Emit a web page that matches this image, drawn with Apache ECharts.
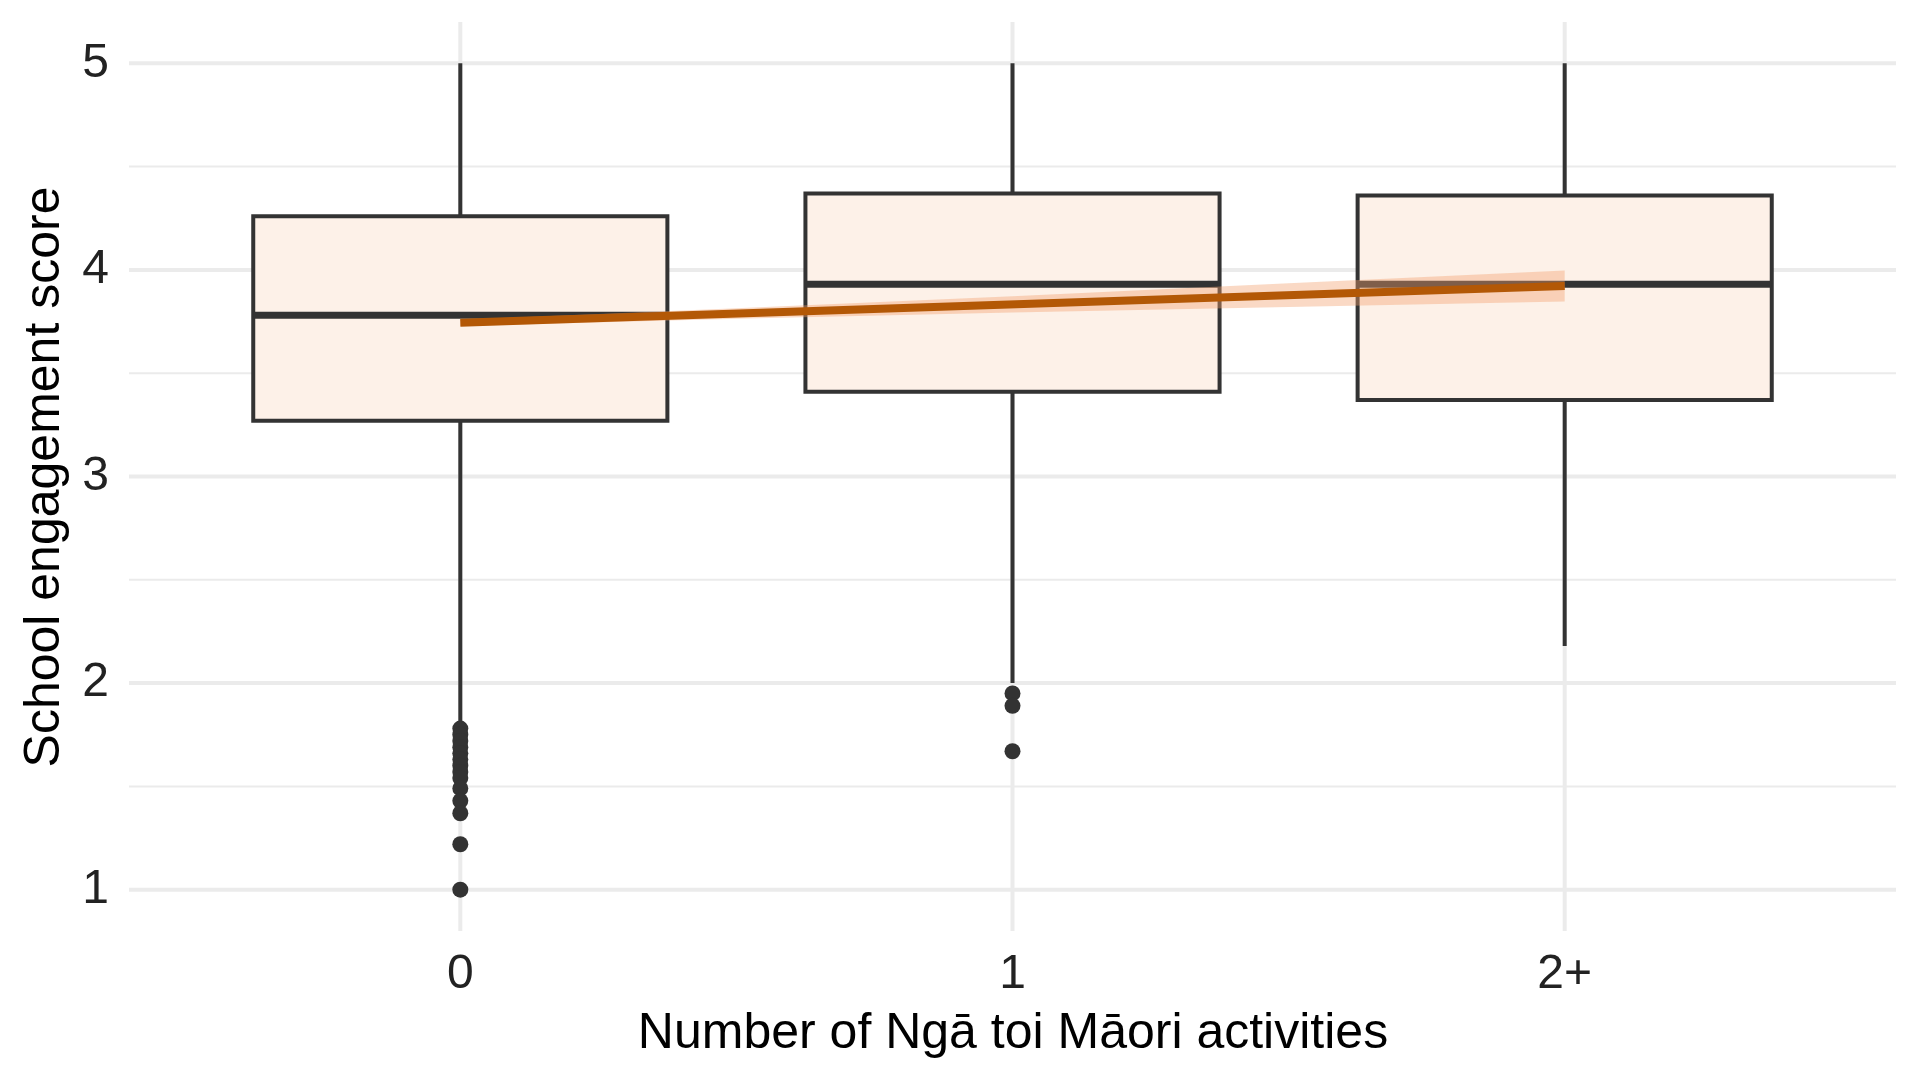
<!DOCTYPE html>
<html>
<head>
<meta charset="utf-8">
<script src="https://cdn.jsdelivr.net/npm/echarts@6/dist/echarts.min.js"></script>
<style>
  html, body { margin: 0; padding: 0; background: #ffffff; }
  #chart { width: 1920px; height: 1080px; }
</style>
</head>
<body>
<div id="chart"></div>
<script>
// ---- Data ----
const categories = ['0', '1', '2+'];
const boxLow    = [1.80, 2.00, 2.18];
const boxQ1     = [3.27, 3.41, 3.37];
const boxMedian = [3.78, 3.93, 3.93];
const boxQ3     = [4.26, 4.37, 4.36];
const boxHigh   = [5.00, 5.00, 5.00];
const outliers0 = [1.78, 1.75, 1.72, 1.69, 1.66, 1.63, 1.60, 1.57, 1.54, 1.49, 1.43, 1.37, 1.22, 1.00];
const outliers1 = [1.95, 1.89, 1.67];
const trendX = [0, 2];
const trendY = [3.744, 3.922];
const bandX    = [0, 0.5, 1, 1.5, 2];
const bandLow  = [3.729, 3.764, 3.794, 3.820, 3.847];
const bandHigh = [3.759, 3.814, 3.873, 3.935, 3.997];
const yMajor = [1, 2, 3, 4, 5];
const yMinor = [1.5, 2.5, 3.5, 4.5];
const xTitle = 'Number of Ngā toi Māori activities';
const yTitle = 'School engagement score';

const FONT = '"Liberation Sans", Arial, sans-serif';
const X_MIN = -0.6, X_MAX = 2.6, Y_MIN = 0.8, Y_MAX = 5.2;

const chart = echarts.init(document.getElementById('chart'));

function hLineRender(width) {
  return function (params, api) {
    const v = api.value(1);
    const a = api.coord([X_MIN, v]);
    const b = api.coord([X_MAX, v]);
    return { type: 'line', shape: { x1: a[0], y1: a[1], x2: b[0], y2: b[1] },
             style: { stroke: '#EBEBEB', lineWidth: width } };
  };
}

const option = {
  animation: false,
  backgroundColor: '#ffffff',
  grid: { left: 129, right: 24, top: 22, bottom: 149, containLabel: false },
  xAxis: {
    type: 'value', min: X_MIN, max: X_MAX,
    axisLine: { show: false }, axisTick: { show: false }, splitLine: { show: false },
    axisLabel: {
      customValues: categories.map((c, i) => i),
      formatter: v => categories[Math.round(v)],
      fontSize: 48, fontFamily: FONT, color: '#222222',
      margin: 44, verticalAlign: 'middle'
    }
  },
  yAxis: {
    type: 'value', min: Y_MIN, max: Y_MAX,
    axisLine: { show: false }, axisTick: { show: false }, splitLine: { show: false },
    axisLabel: {
      customValues: yMajor,
      fontSize: 48, fontFamily: FONT, color: '#222222', margin: 20
    }
  },
  graphic: [
    { type: 'text', x: 1013, y: 1034,
      style: { text: xTitle, x: 0, y: 0, align: 'center', verticalAlign: 'middle',
               fontSize: 50, fontFamily: FONT, fill: '#000000' } },
    { type: 'text', x: 45, y: 477, rotation: Math.PI / 2,
      style: { text: yTitle, x: 0, y: 0, align: 'center', verticalAlign: 'middle',
               fontSize: 50, fontFamily: FONT, fill: '#000000' } }
  ],
  series: [
    { type: 'custom', name: 'minorGrid', z: 0, silent: true,
      data: yMinor.map(v => [0, v]), renderItem: hLineRender(2) },
    { type: 'custom', name: 'majorGrid', z: 0, silent: true,
      data: yMajor.map(v => [0, v]), renderItem: hLineRender(4) },
    { type: 'custom', name: 'vGrid', z: 0, silent: true,
      data: categories.map((c, i) => [i, 3]),
      renderItem: function (params, api) {
        const x = api.value(0);
        const a = api.coord([x, Y_MIN]);
        const b = api.coord([x, Y_MAX]);
        return { type: 'line', shape: { x1: a[0], y1: a[1], x2: b[0], y2: b[1] },
                 style: { stroke: '#EBEBEB', lineWidth: 4 } };
      } },
    { type: 'custom', name: 'boxes', z: 2, silent: true,
      data: categories.map((c, i) => [i, boxLow[i], boxQ1[i], boxMedian[i], boxQ3[i], boxHigh[i]]),
      renderItem: function (params, api) {
        const x = api.value(0);
        const half = 0.375;
        const pLow = api.coord([x, api.value(1)]);
        const pQ1 = api.coord([x, api.value(2)]);
        const pMed = api.coord([x, api.value(3)]);
        const pQ3 = api.coord([x, api.value(4)]);
        const pHigh = api.coord([x, api.value(5)]);
        const left = api.coord([x - half, api.value(3)])[0];
        const right = api.coord([x + half, api.value(3)])[0];
        const dark = '#333333';
        return { type: 'group', children: [
          { type: 'line', shape: { x1: pQ3[0], y1: pQ3[1], x2: pHigh[0], y2: pHigh[1] },
            style: { stroke: dark, lineWidth: 4 } },
          { type: 'line', shape: { x1: pQ1[0], y1: pQ1[1], x2: pLow[0], y2: pLow[1] },
            style: { stroke: dark, lineWidth: 4 } },
          { type: 'rect', shape: { x: left, y: pQ3[1], width: right - left, height: pQ1[1] - pQ3[1] },
            style: { fill: '#FDF1E8', stroke: dark, lineWidth: 4 } },
          { type: 'line', shape: { x1: left, y1: pMed[1], x2: right, y2: pMed[1] },
            style: { stroke: dark, lineWidth: 7 } }
        ] };
      } },
    { type: 'scatter', name: 'outliers0', z: 3, silent: true,
      data: outliers0.map(v => [0, v]), symbol: 'circle', symbolSize: 16,
      itemStyle: { color: '#333333', opacity: 1 } },
    { type: 'scatter', name: 'outliers1', z: 3, silent: true,
      data: outliers1.map(v => [1, v]), symbol: 'circle', symbolSize: 16,
      itemStyle: { color: '#333333', opacity: 1 } },
    { type: 'custom', name: 'band', z: 4, silent: true,
      data: bandX.map((x, i) => [x, bandLow[i], bandHigh[i]]),
      renderItem: function (params, api) {
        if (params.dataIndex !== 0) return null;
        const pts = [];
        for (let i = 0; i < bandX.length; i++) pts.push(api.coord([bandX[i], bandHigh[i]]));
        for (let i = bandX.length - 1; i >= 0; i--) pts.push(api.coord([bandX[i], bandLow[i]]));
        return { type: 'polygon', shape: { points: pts },
                 style: { fill: 'rgba(243,160,110,0.4)' } };
      } },
    { type: 'line', name: 'trend', z: 5, silent: true,
      data: trendX.map((x, i) => [x, trendY[i]]),
      symbol: 'none', lineStyle: { color: '#B35806', width: 8 } }
  ]
};
chart.setOption(option);
</script>
</body>
</html>
